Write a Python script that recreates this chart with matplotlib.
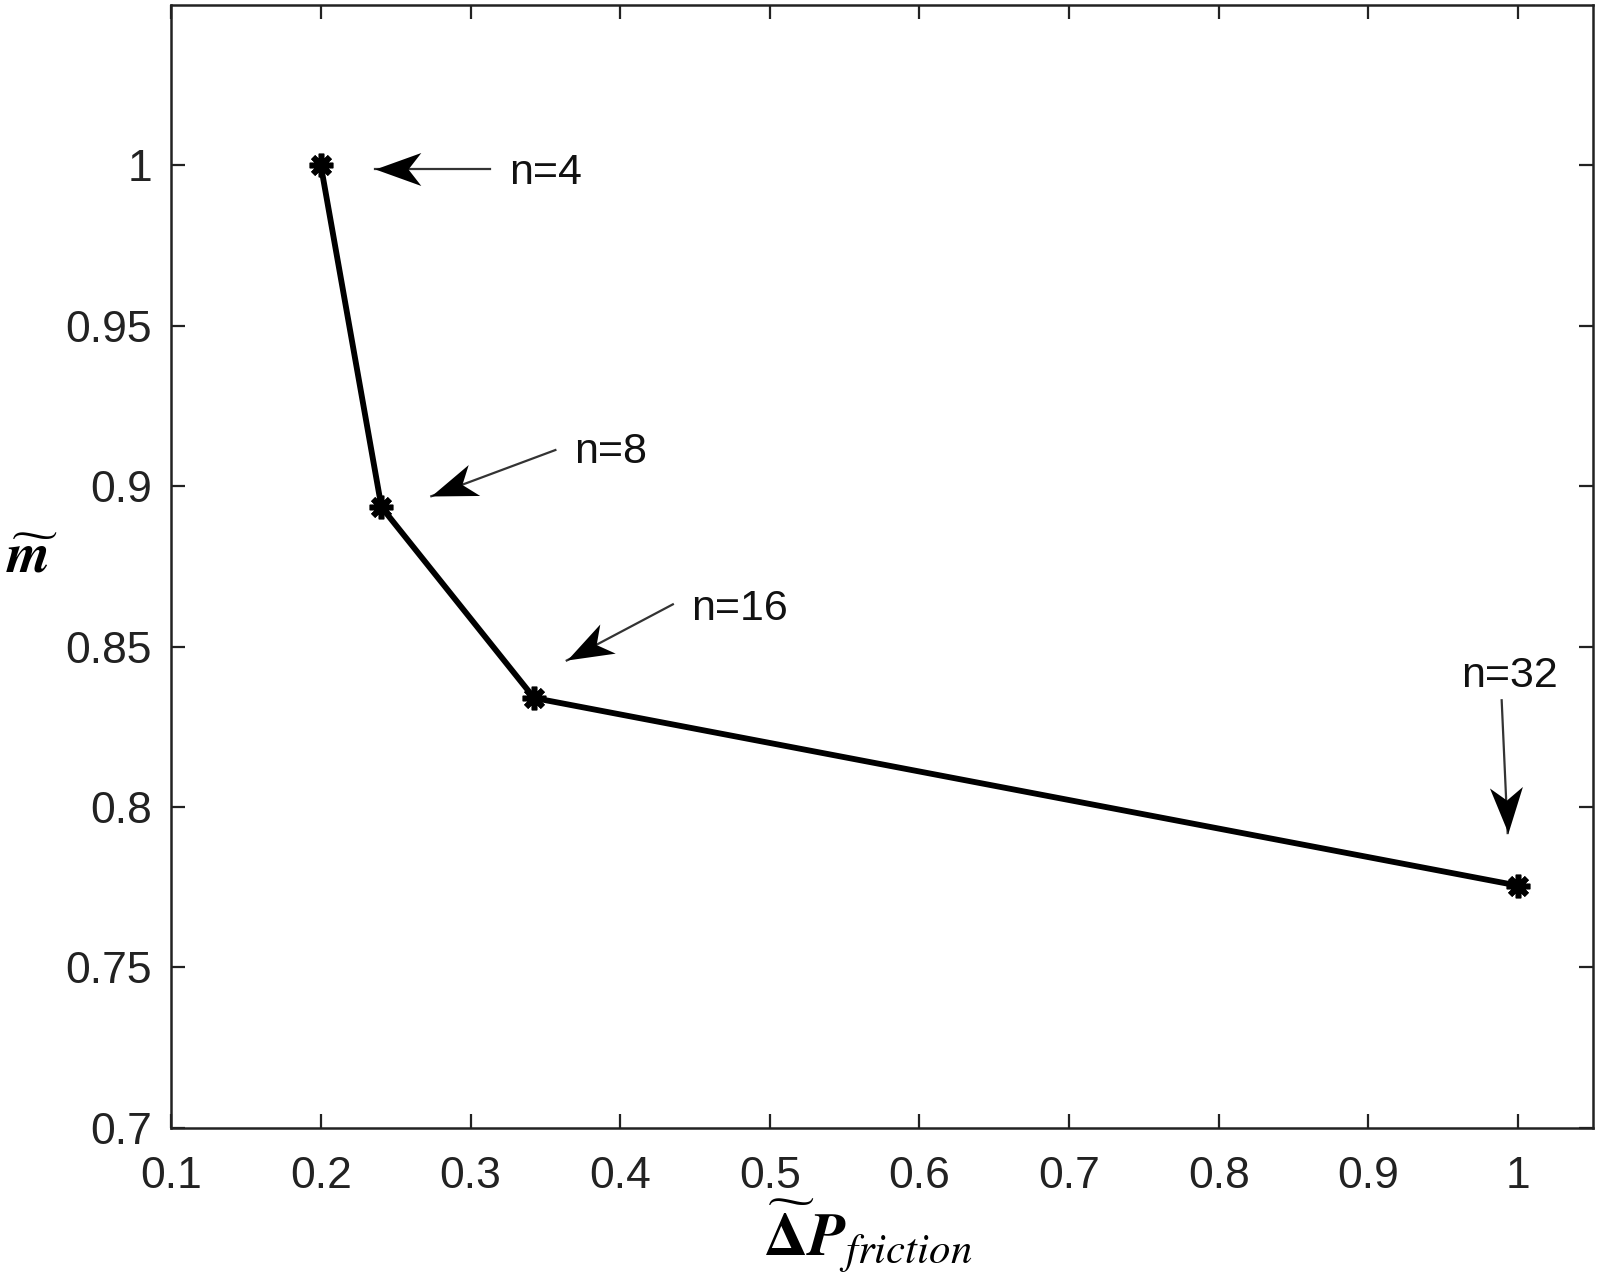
import numpy as np
import matplotlib.pyplot as plt
from matplotlib.path import Path
from matplotlib.markers import MarkerStyle
from matplotlib.transforms import Affine2D

plt.rcParams['font.family'] = ['Liberation Sans', 'DejaVu Sans']
plt.rcParams['mathtext.fontset'] = 'stix'

dp_friction = [0.2, 0.2405, 0.3425, 1.0]
m_tilde = [1.0, 0.8935, 0.834, 0.7755]
labels = ['n=4', 'n=8', 'n=16', 'n=32']
text_pos = [(0.326, 0.9976), (0.369, 0.9106), (0.4474, 0.8617), (0.994, 0.841)]
arrow_tail = [(0.3127, 0.999), (0.3567, 0.9113), (0.4352, 0.8632), (0.989, 0.8333)]
arrow_tip = [(0.2359, 0.999), (0.2738, 0.8969), (0.3643, 0.8457), (0.993, 0.7919)]

fig = plt.figure(figsize=(16, 12.73), dpi=100)
ax = fig.add_axes([0.107, 0.114, 0.8886, 0.882])

ax.plot(dp_friction, m_tilde, color='black', linewidth=4.2,
        marker=(8, 2, 0), markersize=17, markeredgewidth=4)

ax.set_xlim(0.1, 1.05)
ax.set_ylim(0.7, 1.05)

# matlab style arrow head (concave back)
head = Path([(0, 0), (-1, 0.36), (-0.72, 0), (-1, -0.36), (0, 0)],
            [Path.MOVETO, Path.LINETO, Path.LINETO, Path.LINETO, Path.CLOSEPOLY])

for i, lab in enumerate(labels):
    tx, ty = arrow_tail[i]
    hx, hy = arrow_tip[i]
    ax.plot([tx, hx], [ty, hy], color='#333333', linewidth=1.6)
    p0 = ax.transData.transform((tx, ty))
    p1 = ax.transData.transform((hx, hy))
    ang = np.degrees(np.arctan2(p1[1] - p0[1], p1[0] - p0[0]))
    ms = MarkerStyle(head, transform=Affine2D().rotate_deg(ang))
    ax.plot([hx], [hy], marker=ms, markersize=66, color='black',
            markeredgewidth=0, linestyle='none')
    if lab == 'n=32':
        ax.text(text_pos[i][0], text_pos[i][1], lab, fontsize=31,
                ha='center', va='center', color='#111111')
    else:
        ax.text(text_pos[i][0], text_pos[i][1], lab, fontsize=31,
                ha='left', va='center', color='#111111')

ax.set_xticks([0.1, 0.2, 0.3, 0.4, 0.5, 0.6, 0.7, 0.8, 0.9, 1])
ax.set_xticklabels(['0.1', '0.2', '0.3', '0.4', '0.5', '0.6', '0.7', '0.8', '0.9', '1'])
ax.set_yticks([0.7, 0.75, 0.8, 0.85, 0.9, 0.95, 1])
ax.set_yticklabels(['0.7', '0.75', '0.8', '0.85', '0.9', '0.95', '1'])
ax.tick_params(direction='in', length=10, width=1.6, labelsize=32, colors='#222222',
               top=True, right=True)
ax.tick_params(axis='x', pad=20)
ax.tick_params(axis='y', pad=14)
for s in ax.spines.values():
    s.set_linewidth(1.8)
    s.set_color('#222222')

ax.set_xlabel(r'$\widetilde{\mathbf{\Delta}}\mathbfit{P}_{\mathit{friction}}$', fontsize=44,
              va='center')
ax.xaxis.set_label_coords(0.49, -0.097)
ax.set_ylabel(r'$\widetilde{\mathbfit{m}}$', fontsize=40, rotation=0,
              ha='center', va='center')
ax.yaxis.set_label_coords(-0.098, 0.507)

fig.savefig('out.png', dpi=100)
